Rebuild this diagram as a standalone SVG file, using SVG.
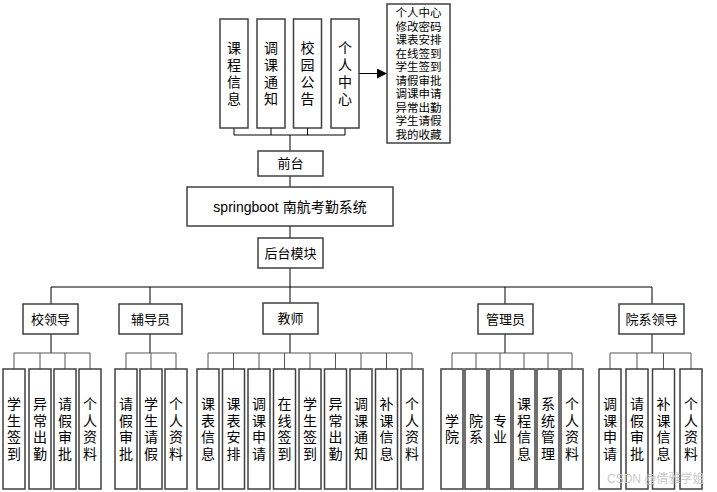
<svg xmlns="http://www.w3.org/2000/svg" width="717" height="492" viewBox="0 0 717 492">
<style>
.bx{fill:#fff;stroke:#404040;stroke-width:1.5}
.t{font-family:"Liberation Sans","Noto Sans CJK SC",sans-serif;fill:#000;text-anchor:middle;dominant-baseline:central}
.v{font-size:14px}
.h{font-size:13px}
.c{fill:none;stroke:#000;stroke-width:1}
.cg{fill:none;stroke:#555;stroke-width:1}
</style>
<defs>
<marker id="ar" viewBox="0 0 10 10" refX="10" refY="5" markerWidth="10" markerHeight="10" markerUnits="userSpaceOnUse" orient="auto">
<path d="M0,0 L10,5 L0,10 z" fill="#000"/>
</marker>
</defs>
<rect width="717" height="492" fill="#fff"/>
<g id="connectors">
<path class="c" d="M234,128V135M271,128V135M307.5,128V135M345,128V135M234,135H345M290,135V151"/>
<path class="c" d="M359,73.5H387" marker-end="url(#ar)"/>
<path class="c" d="M290,176V187M290,226V238M290,268V287M51,287H652"/>
<path class="c" d="M51,287V304M150,287V304M290,287V304M505,287V304M652,287V304"/>
<path class="c" stroke-width="1.5" d="M51,334V353M150,334V353M290,334V353M505,334V353M652,334V353"/>
<path class="cg" d="M14,353H90M14,353V369M40,353V369M65,353V369M90,353V369"/>
<path class="cg" d="M126,353H176M126,353V369M151,353V369M176,353V369"/>
<path class="cg" d="M208,353H412M208,353V369M233.5,353V369M259,353V369M284.5,353V369M310,353V369M335.5,353V369M361,353V369M386.5,353V369M412,353V369"/>
<path class="cg" d="M452,353H572M452,353V369M476,353V369M500,353V369M524,353V369M548,353V369M572,353V369"/>
<path class="cg" d="M610,353H691M610,353V369M637,353V369M663.5,353V369M691,353V369"/>
</g>
<g id="top1"><rect class="bx" x="220" y="19" width="28" height="109"/><text class="t v"><tspan x="234" y="48">课</tspan><tspan x="234" y="65">程</tspan><tspan x="234" y="82">信</tspan><tspan x="234" y="99">息</tspan></text></g>
<g id="top2"><rect class="bx" x="257" y="19" width="28" height="109"/><text class="t v"><tspan x="271" y="48">调</tspan><tspan x="271" y="65">课</tspan><tspan x="271" y="82">通</tspan><tspan x="271" y="99">知</tspan></text></g>
<g id="top3"><rect class="bx" x="293.5" y="19" width="28" height="109"/><text class="t v"><tspan x="307.5" y="48">校</tspan><tspan x="307.5" y="65">园</tspan><tspan x="307.5" y="82">公</tspan><tspan x="307.5" y="99">告</tspan></text></g>
<g id="top4"><rect class="bx" x="331" y="19" width="28" height="109"/><text class="t v"><tspan x="345" y="48">个</tspan><tspan x="345" y="65">人</tspan><tspan x="345" y="82">中</tspan><tspan x="345" y="99">心</tspan></text></g>
<g id="info"><rect class="bx" x="387" y="4" width="63" height="139"/><text class="t" font-size="11.5"><tspan x="418.5" y="13">个人中心</tspan><tspan x="418.5" y="26.5">修改密码</tspan><tspan x="418.5" y="40">课表安排</tspan><tspan x="418.5" y="53.6">在线签到</tspan><tspan x="418.5" y="67.2">学生签到</tspan><tspan x="418.5" y="80.8">请假审批</tspan><tspan x="418.5" y="94.3">调课申请</tspan><tspan x="418.5" y="107.9">异常出勤</tspan><tspan x="418.5" y="121.4">学生请假</tspan><tspan x="418.5" y="135">我的收藏</tspan></text></g>
<g id="qiantai"><rect class="bx" x="258" y="151" width="65" height="25"/><text class="t h" x="290.5" y="163.5">前台</text></g>
<g id="system"><rect class="bx" x="187" y="187" width="206" height="39"/><text class="t" font-size="14" x="290" y="207">springboot 南航考勤系统</text></g>
<g id="houtai"><rect class="bx" x="258" y="238" width="65" height="30"/><text class="t h" x="290.5" y="253">后台模块</text></g>
<g id="xld"><rect class="bx" x="23" y="304" width="55" height="30"/><text class="t h" x="50.5" y="319">校领导</text></g>
<g id="fdy"><rect class="bx" x="119" y="304" width="63" height="30"/><text class="t h" x="150.5" y="319">辅导员</text></g>
<g id="js"><rect class="bx" x="263" y="303" width="55" height="31"/><text class="t h" x="290.5" y="318.5">教师</text></g>
<g id="gly"><rect class="bx" x="478" y="304" width="55" height="30"/><text class="t h" x="505.5" y="319">管理员</text></g>
<g id="yxld"><rect class="bx" x="619" y="304" width="65" height="30"/><text class="t h" x="651.5" y="319">院系领导</text></g>
<g id="xld1"><rect class="bx" x="3" y="369" width="22" height="120"/><text class="t v"><tspan x="14" y="404">学</tspan><tspan x="14" y="420.7">生</tspan><tspan x="14" y="437.3">签</tspan><tspan x="14" y="454">到</tspan></text></g>
<g id="xld2"><rect class="bx" x="29" y="369" width="22" height="120"/><text class="t v"><tspan x="40" y="404">异</tspan><tspan x="40" y="420.7">常</tspan><tspan x="40" y="437.3">出</tspan><tspan x="40" y="454">勤</tspan></text></g>
<g id="xld3"><rect class="bx" x="54" y="369" width="22" height="120"/><text class="t v"><tspan x="65" y="404">请</tspan><tspan x="65" y="420.7">假</tspan><tspan x="65" y="437.3">审</tspan><tspan x="65" y="454">批</tspan></text></g>
<g id="xld4"><rect class="bx" x="79" y="369" width="22" height="120"/><text class="t v"><tspan x="90" y="404">个</tspan><tspan x="90" y="420.7">人</tspan><tspan x="90" y="437.3">资</tspan><tspan x="90" y="454">料</tspan></text></g>
<g id="fdy1"><rect class="bx" x="115" y="369" width="22" height="120"/><text class="t v"><tspan x="126" y="404">请</tspan><tspan x="126" y="420.7">假</tspan><tspan x="126" y="437.3">审</tspan><tspan x="126" y="454">批</tspan></text></g>
<g id="fdy2"><rect class="bx" x="140" y="369" width="22" height="120"/><text class="t v"><tspan x="151" y="404">学</tspan><tspan x="151" y="420.7">生</tspan><tspan x="151" y="437.3">请</tspan><tspan x="151" y="454">假</tspan></text></g>
<g id="fdy3"><rect class="bx" x="165" y="369" width="22" height="120"/><text class="t v"><tspan x="176" y="404">个</tspan><tspan x="176" y="420.7">人</tspan><tspan x="176" y="437.3">资</tspan><tspan x="176" y="454">料</tspan></text></g>
<g id="js1"><rect class="bx" x="197" y="369" width="22" height="120"/><text class="t v"><tspan x="208" y="404">课</tspan><tspan x="208" y="420.7">表</tspan><tspan x="208" y="437.3">信</tspan><tspan x="208" y="454">息</tspan></text></g>
<g id="js2"><rect class="bx" x="222.5" y="369" width="22" height="120"/><text class="t v"><tspan x="233.5" y="404">课</tspan><tspan x="233.5" y="420.7">表</tspan><tspan x="233.5" y="437.3">安</tspan><tspan x="233.5" y="454">排</tspan></text></g>
<g id="js3"><rect class="bx" x="248" y="369" width="22" height="120"/><text class="t v"><tspan x="259" y="404">调</tspan><tspan x="259" y="420.7">课</tspan><tspan x="259" y="437.3">申</tspan><tspan x="259" y="454">请</tspan></text></g>
<g id="js4"><rect class="bx" x="273.5" y="369" width="22" height="120"/><text class="t v"><tspan x="284.5" y="404">在</tspan><tspan x="284.5" y="420.7">线</tspan><tspan x="284.5" y="437.3">签</tspan><tspan x="284.5" y="454">到</tspan></text></g>
<g id="js5"><rect class="bx" x="299" y="369" width="22" height="120"/><text class="t v"><tspan x="310" y="404">学</tspan><tspan x="310" y="420.7">生</tspan><tspan x="310" y="437.3">签</tspan><tspan x="310" y="454">到</tspan></text></g>
<g id="js6"><rect class="bx" x="324.5" y="369" width="22" height="120"/><text class="t v"><tspan x="335.5" y="404">异</tspan><tspan x="335.5" y="420.7">常</tspan><tspan x="335.5" y="437.3">出</tspan><tspan x="335.5" y="454">勤</tspan></text></g>
<g id="js7"><rect class="bx" x="350" y="369" width="22" height="120"/><text class="t v"><tspan x="361" y="404">调</tspan><tspan x="361" y="420.7">课</tspan><tspan x="361" y="437.3">通</tspan><tspan x="361" y="454">知</tspan></text></g>
<g id="js8"><rect class="bx" x="375.5" y="369" width="22" height="120"/><text class="t v"><tspan x="386.5" y="404">补</tspan><tspan x="386.5" y="420.7">课</tspan><tspan x="386.5" y="437.3">信</tspan><tspan x="386.5" y="454">息</tspan></text></g>
<g id="js9"><rect class="bx" x="401" y="369" width="22" height="120"/><text class="t v"><tspan x="412" y="404">个</tspan><tspan x="412" y="420.7">人</tspan><tspan x="412" y="437.3">资</tspan><tspan x="412" y="454">料</tspan></text></g>
<g id="gly1"><rect class="bx" x="441" y="369" width="22" height="120"/><text class="t v"><tspan x="452" y="420.7">学</tspan><tspan x="452" y="437.3">院</tspan></text></g>
<g id="gly2"><rect class="bx" x="465" y="369" width="22" height="120"/><text class="t v"><tspan x="476" y="420.7">院</tspan><tspan x="476" y="437.3">系</tspan></text></g>
<g id="gly3"><rect class="bx" x="489" y="369" width="22" height="120"/><text class="t v"><tspan x="500" y="420.7">专</tspan><tspan x="500" y="437.3">业</tspan></text></g>
<g id="gly4"><rect class="bx" x="513" y="369" width="22" height="120"/><text class="t v"><tspan x="524" y="404">课</tspan><tspan x="524" y="420.7">程</tspan><tspan x="524" y="437.3">信</tspan><tspan x="524" y="454">息</tspan></text></g>
<g id="gly5"><rect class="bx" x="537" y="369" width="22" height="120"/><text class="t v"><tspan x="548" y="404">系</tspan><tspan x="548" y="420.7">统</tspan><tspan x="548" y="437.3">管</tspan><tspan x="548" y="454">理</tspan></text></g>
<g id="gly6"><rect class="bx" x="561" y="369" width="22" height="120"/><text class="t v"><tspan x="572" y="404">个</tspan><tspan x="572" y="420.7">人</tspan><tspan x="572" y="437.3">资</tspan><tspan x="572" y="454">料</tspan></text></g>
<g id="yx1"><rect class="bx" x="599" y="369" width="22" height="120"/><text class="t v"><tspan x="610" y="404">调</tspan><tspan x="610" y="420.7">课</tspan><tspan x="610" y="437.3">申</tspan><tspan x="610" y="454">请</tspan></text></g>
<g id="yx2"><rect class="bx" x="626" y="369" width="22" height="120"/><text class="t v"><tspan x="637" y="404">请</tspan><tspan x="637" y="420.7">假</tspan><tspan x="637" y="437.3">审</tspan><tspan x="637" y="454">批</tspan></text></g>
<g id="yx3"><rect class="bx" x="652.5" y="369" width="22" height="120"/><text class="t v"><tspan x="663.5" y="404">补</tspan><tspan x="663.5" y="420.7">课</tspan><tspan x="663.5" y="437.3">信</tspan><tspan x="663.5" y="454">息</tspan></text></g>
<g id="yx4"><rect class="bx" x="680" y="369" width="22" height="120"/><text class="t v"><tspan x="691" y="404">个</tspan><tspan x="691" y="420.7">人</tspan><tspan x="691" y="437.3">资</tspan><tspan x="691" y="454">料</tspan></text></g>
<text x="607" y="483" font-family="Liberation Sans,Noto Sans CJK SC,sans-serif" font-size="12" fill="#c8c8c8">CSDN @倩雅学姐</text>
</svg>
